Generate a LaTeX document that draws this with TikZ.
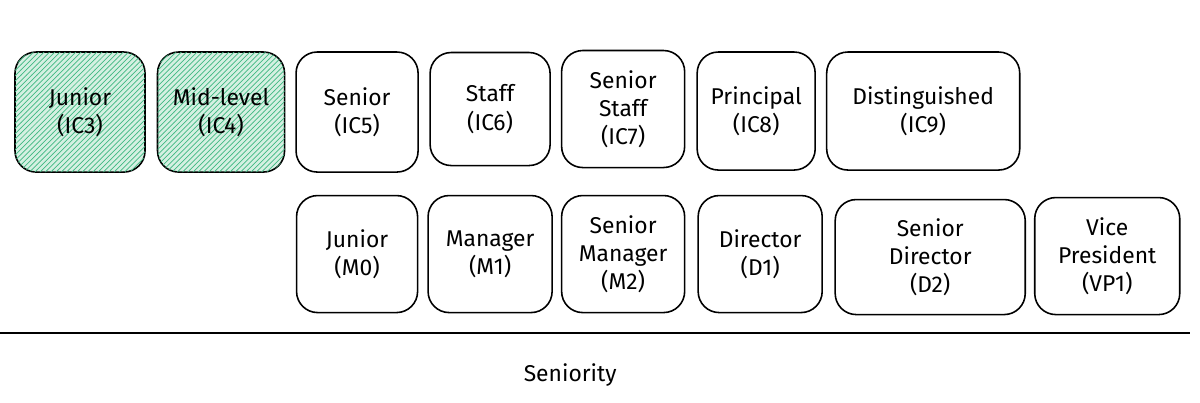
\documentclass[tikz,border=0pt]{standalone}
\usepackage{fontspec}
\setmainfont{Fira Sans}
\usetikzlibrary{patterns}
\definecolor{hatch}{HTML}{40B882}
\definecolor{paleg}{HTML}{D5F0E2}
\tikzset{
  lvl/.style={draw=black, line width=0.9pt, rounded corners=12pt, align=center, font=\fontsize{13}{16}\selectfont},
  grn/.style={lvl, fill=paleg, postaction={pattern=north east lines, pattern color=hatch}},
}
\newcommand{\bx}[7]{\node[#1, minimum width=#4*0.02cm, minimum height=#5*0.02cm] (#2) at (#3*0.02, -#6*0.02) {#7};}
\begin{document}
\begin{tikzpicture}
\useasboundingbox (0,0) rectangle (24,-8.04);
% top row: style, name, centre x, width, height, centre y, text
\bx{grn}{ic3}{80}{130}{120}{112}{Junior\\(IC3)}
\bx{grn}{ic4}{221}{127}{120}{112}{Mid-level\\(IC4)}
\bx{lvl}{ic5}{357}{122}{120}{112}{Senior\\(IC5)}
\bx{lvl}{ic6}{490}{120}{113}{109}{Staff\\(IC6)}
\bx{lvl}{ic7}{623}{123}{117}{109}{Senior\\Staff\\(IC7)}
\bx{lvl}{ic8}{756}{118}{118}{111}{Principal\\(IC8)}
\bx{lvl}{ic9}{923}{193}{118}{111}{Distinguished\\(IC9)}
% bottom row
\bx{lvl}{m0}{357}{121}{117}{254}{Junior\\(M0)}
\bx{lvl}{m1}{490}{124}{117}{254}{Manager\\(M1)}
\bx{lvl}{m2}{623}{123}{117}{254}{Senior\\Manager\\(M2)}
\bx{lvl}{d1}{760}{124}{117}{254}{Director\\(D1)}
\bx{lvl}{d2}{930}{190}{115}{257}{Senior\\Director\\(D2)}
\bx{lvl}{vp1}{1107}{145}{117}{256}{Vice\\President\\(VP1)}
\coordinate (axl) at (0,-333*0.02);
\coordinate (axr) at (1190*0.02,-333*0.02);
\draw[line width=0.9pt] (axl) -- (axr);
\node[font=\fontsize{13}{16}\selectfont] (sen) at (570*0.02,-375*0.02) {Seniority};
\end{tikzpicture}
\end{document}
